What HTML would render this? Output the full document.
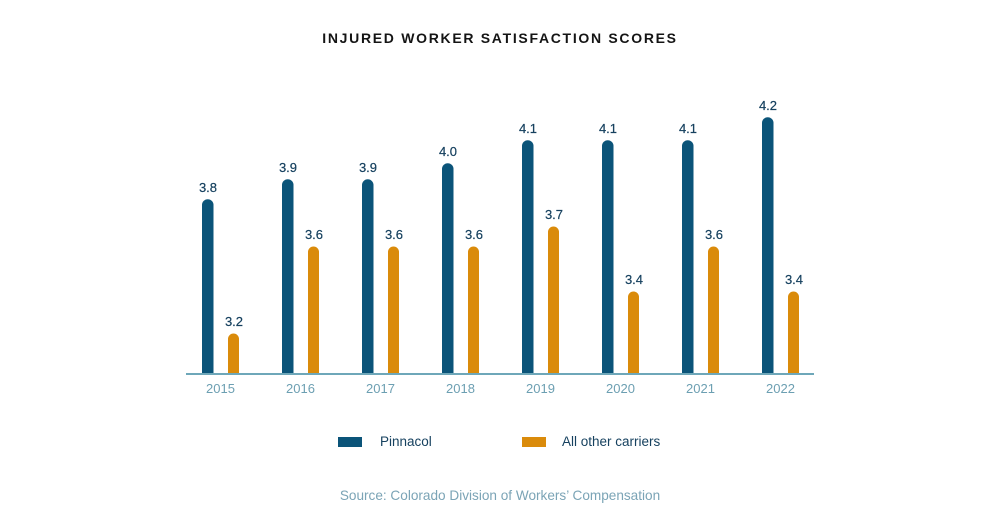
<!DOCTYPE html>
<html>
<head>
<meta charset="utf-8">
<style>
  html, body { margin: 0; padding: 0; background: #ffffff; }
  body { width: 1000px; height: 524px; overflow: hidden; }
  svg { display: block; }
  text { font-family: "Liberation Sans", Arial, sans-serif; }
</style>
</head>
<body>
<svg width="1000" height="524" viewBox="0 0 1000 524" xmlns="http://www.w3.org/2000/svg">
  <rect width="1000" height="524" fill="#ffffff"/>
  <!-- Title -->
  <text x="500" y="43" text-anchor="middle" font-size="14" font-weight="bold" letter-spacing="1.7" fill="#141414">INJURED WORKER SATISFACTION SCORES</text>

  <g id="bars">
    <!-- 2015 -->
    <path d="M202,374 V205 a5.75,5.75 0 0 1 11.5,0 V374 Z" fill="#0b5479"/>
    <path d="M228,374 V339 a5.5,5.5 0 0 1 11,0 V374 Z" fill="#da8b0b"/>
    <!-- 2016 -->
    <path d="M282,374 V185 a5.75,5.75 0 0 1 11.5,0 V374 Z" fill="#0b5479"/>
    <path d="M308,374 V252 a5.5,5.5 0 0 1 11,0 V374 Z" fill="#da8b0b"/>
    <!-- 2017 -->
    <path d="M362,374 V185 a5.75,5.75 0 0 1 11.5,0 V374 Z" fill="#0b5479"/>
    <path d="M388,374 V252 a5.5,5.5 0 0 1 11,0 V374 Z" fill="#da8b0b"/>
    <!-- 2018 -->
    <path d="M442,374 V169 a5.75,5.75 0 0 1 11.5,0 V374 Z" fill="#0b5479"/>
    <path d="M468,374 V252 a5.5,5.5 0 0 1 11,0 V374 Z" fill="#da8b0b"/>
    <!-- 2019 -->
    <path d="M522,374 V146 a5.75,5.75 0 0 1 11.5,0 V374 Z" fill="#0b5479"/>
    <path d="M548,374 V232 a5.5,5.5 0 0 1 11,0 V374 Z" fill="#da8b0b"/>
    <!-- 2020 -->
    <path d="M602,374 V146 a5.75,5.75 0 0 1 11.5,0 V374 Z" fill="#0b5479"/>
    <path d="M628,374 V297 a5.5,5.5 0 0 1 11,0 V374 Z" fill="#da8b0b"/>
    <!-- 2021 -->
    <path d="M682,374 V146 a5.75,5.75 0 0 1 11.5,0 V374 Z" fill="#0b5479"/>
    <path d="M708,374 V252 a5.5,5.5 0 0 1 11,0 V374 Z" fill="#da8b0b"/>
    <!-- 2022 -->
    <path d="M762,374 V123 a5.75,5.75 0 0 1 11.5,0 V374 Z" fill="#0b5479"/>
    <path d="M788,374 V297 a5.5,5.5 0 0 1 11,0 V374 Z" fill="#da8b0b"/>
  </g>

  <!-- Axis -->
  <rect x="186" y="373" width="628" height="2" fill="#6ea7b9"/>

  <g font-size="13" fill="#16415f" text-anchor="middle" stroke="#16415f" stroke-width="0.2">
    <text x="208" y="192">3.8</text>
    <text x="234" y="326">3.2</text>
    <text x="288" y="172">3.9</text>
    <text x="314" y="239">3.6</text>
    <text x="368" y="172">3.9</text>
    <text x="394" y="239">3.6</text>
    <text x="448" y="156">4.0</text>
    <text x="474" y="239">3.6</text>
    <text x="528" y="133">4.1</text>
    <text x="554" y="219">3.7</text>
    <text x="608" y="133">4.1</text>
    <text x="634" y="284">3.4</text>
    <text x="688" y="133">4.1</text>
    <text x="714" y="239">3.6</text>
    <text x="768" y="110">4.2</text>
    <text x="794" y="284">3.4</text>
  </g>

  <g font-size="13" fill="#6c9fb2" text-anchor="middle">
    <text x="220.5" y="393">2015</text>
    <text x="300.5" y="393">2016</text>
    <text x="380.5" y="393">2017</text>
    <text x="460.5" y="393">2018</text>
    <text x="540.5" y="393">2019</text>
    <text x="620.5" y="393">2020</text>
    <text x="700.5" y="393">2021</text>
    <text x="780.5" y="393">2022</text>
  </g>

  <!-- Legend -->
  <rect x="338" y="437" width="24" height="10" fill="#0b5479"/>
  <text x="380" y="446" font-size="13.5" fill="#16415f">Pinnacol</text>
  <rect x="522" y="437" width="24" height="10" fill="#da8b0b"/>
  <text x="562" y="446" font-size="13.5" fill="#16415f">All other carriers</text>

  <!-- Source -->
  <text x="500" y="500" text-anchor="middle" font-size="13.6" fill="#7ba4b6">Source: Colorado Division of Workers’ Compensation</text>
</svg>
</body>
</html>
